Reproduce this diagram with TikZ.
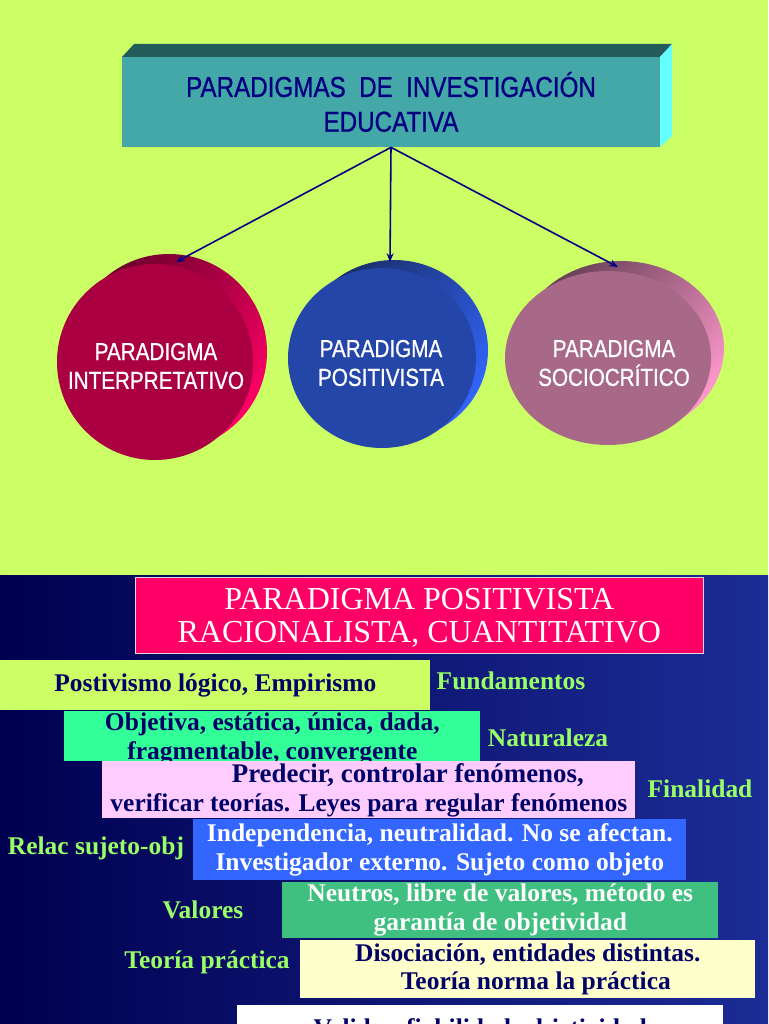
\documentclass[tikz,border=0pt]{standalone}
\usepackage{fontspec}
\setmainfont{Liberation Serif}
\newfontfamily\narrowsans{Liberation Sans}[FakeStretch=0.84,FakeBold=0.8]
\usetikzlibrary{arrows.meta}
\definecolor{lima}{HTML}{CCFF66}
\definecolor{turquesa}{HTML}{45A8A8}
\definecolor{tapa}{HTML}{245C5C}
\definecolor{lado}{HTML}{66FFFF}
\definecolor{tinta}{HTML}{000080}
\definecolor{tintacaja}{HTML}{000066}
\definecolor{carmesi}{HTML}{AA0042}
\definecolor{rojoosc}{HTML}{70002C}
\definecolor{rojoviv}{HTML}{FF0066}
\definecolor{azul}{HTML}{2446A8}
\definecolor{azulosc}{HTML}{1A2F6A}
\definecolor{azulviv}{HTML}{3366FF}
\definecolor{malva}{HTML}{A86888}
\definecolor{malvaosc}{HTML}{6A4058}
\definecolor{malvaviv}{HTML}{FF99CC}
\definecolor{fondoa}{HTML}{000050}
\definecolor{fondob}{HTML}{1C2C96}
\definecolor{rosa}{HTML}{FF0066}
\definecolor{verdetxt}{HTML}{99FF66}
\definecolor{verdeagua}{HTML}{33FF99}
\definecolor{rosapal}{HTML}{FFCCFF}
\definecolor{verdecaja}{HTML}{40C080}
\definecolor{crema}{HTML}{FFFFCC}
\tikzset{
  caja/.style={rectangle,anchor=north west,inner sep=0pt,align=center,
    font=\fontsize{14.5}{16.5}\selectfont\bfseries,text=tintacaja},
  etiqueta/.style={font=\fontsize{14.5}{16.5}\selectfont\bfseries,text=verdetxt},
  disco/.style={align=center,text=white,inner sep=0pt,
    font=\fontsize{14}{16.4}\narrowsans},
  canto/.style 2 args={top color=#1,bottom color=#2,shading angle=45},
  flecha/.style={draw=tinta,line width=0.9pt,-{Stealth[length=5pt,width=4pt]}}
}
\begin{document}
\begin{tikzpicture}[x=0.02cm,y=-0.02cm]
\useasboundingbox (0,0) rectangle (768,1024);
\clip (0,0) rectangle (768,1024);
% upper slide
\fill[lima] (0,0) rectangle (768,575);
\fill[tapa] (122,57) -- (134,44) -- (672,44) -- (660,57) -- cycle;
\fill[lado] (660,57) -- (672,44) -- (672,136) -- (660,147) -- cycle;
\node[fill=turquesa,minimum width=10.76cm,minimum height=1.8cm,inner sep=0pt,
  align=center,text=tinta,font=\fontsize{16.4}{19.8}\narrowsans] (titulo) at (391,102)
  {PARADIGMAS\ \ DE\ \ INVESTIGACIÓN\\EDUCATIVA};

\shade[canto={rojoosc}{rojoviv}] (169,352) ellipse [x radius=98, y radius=98];
\fill[carmesi] (155,362) ellipse [x radius=98, y radius=98];
\node[disco] (interp) at (156,366) {PARADIGMA\\INTERPRETATIVO};
\shade[canto={azulosc}{azulviv}] (394,350) ellipse [x radius=94, y radius=90];
\fill[azul] (382,358) ellipse [x radius=94, y radius=90];
\node[disco] (posit) at (381,363) {PARADIGMA\\POSITIVISTA};
\shade[canto={malvaosc}{malvaviv}] (621,348) ellipse [x radius=103, y radius=87];
\fill[malva] (608,358) ellipse [x radius=103, y radius=87];
\node[disco] (socio) at (614,363) {PARADIGMA\\SOCIOCRÍTICO};

\coordinate (pi) at (176,262);
\coordinate (pp) at (390,262);
\coordinate (ps) at (618,267);
\draw[flecha] (titulo.south) -- (pi);
\draw[flecha] (titulo.south) -- (pp);
\draw[flecha] (titulo.south) -- (ps);

% lower slide
\shade[left color=fondoa,right color=fondob] (0,575) rectangle (768,1024);
\node[caja,fill=rosa,draw=gray!30,text=white,font=\fontsize{18.2}{18.7}\selectfont,
  minimum width=11.36cm,minimum height=1.52cm,text depth=0pt] (encabezado) at (135,577)
  {PARADIGMA POSITIVISTA\\RACIONALISTA, CUANTITATIVO};

\node[caja,fill=lima,minimum width=8.6cm,minimum height=1cm] (fund) at (0,660)
  {Postivismo lógico, Empirismo};
\node[caja,fill=verdeagua,minimum width=8.32cm,minimum height=1cm,text depth=0pt] (natu) at (64,711)
  {Objetiva, estática, única, dada,\\fragmentable, convergente};
\node[caja,fill=rosapal,minimum width=10.66cm,minimum height=1.14cm] (fina) at (102,761)
  {\hspace*{1.56cm}{\fontsize{15.3}{16.5}\selectfont Predecir, controlar fenómenos,}\\verificar teorías. Leyes para regular fenómenos};
\node[caja,fill=azulviv,text=white,minimum width=9.86cm,minimum height=1.22cm] (relac) at (193,819)
  {Independencia, neutralidad. No se afectan.\\Investigador externo. Sujeto como objeto};
\node[caja,fill=verdecaja,text=white,minimum width=8.72cm,minimum height=1.12cm] (valo) at (282,882)
  {Neutros, libre de valores, método es\\garantía de objetividad};
\node[caja,fill=crema,minimum width=9.1cm,minimum height=1.16cm] (teor) at (300,940)
  {Disociación, entidades distintas.\\\hspace*{0.32cm}Teoría norma la práctica};
\node[caja,fill=white,minimum width=9.72cm,minimum height=1cm] (vali) at (237,1005)
  {Validez, fiabilidad, objetividad};

\node[etiqueta] (lfund) at (511,681) {Fundamentos};
\node[etiqueta] (lnatu) at (548,738) {Naturaleza};
\node[etiqueta] (lfina) at (700,789) {Finalidad};
\node[etiqueta] (lrelac) at (96,848) {Relac sujeto-obj};
\node[etiqueta] (lvalo) at (203,910) {Valores};
\node[etiqueta] (lteor) at (207,962) {Teoría práctica};
\end{tikzpicture}
\end{document}
